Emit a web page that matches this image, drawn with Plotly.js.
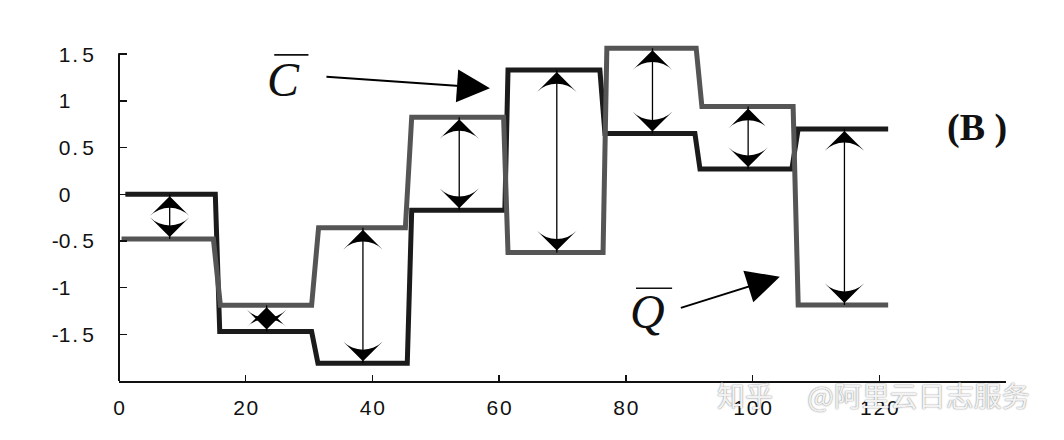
<!DOCTYPE html>
<html>
<head>
<meta charset="utf-8">
<script src="https://cdn.plot.ly/plotly-3.0.1.min.js"></script>
<style>
html,body{margin:0;padding:0;background:#ffffff;}
#chart{width:1064px;height:440px;}
</style>
</head>
<body>
<div id="chart"></div>
<script>
// ---- data ----
// C-bar series (dark line): step corners
const cBarX = [1, 15.2, 15.9, 30.4, 31.4, 45.5, 46.2, 60.9, 61.4, 75.9, 76.7, 90.9, 91.7, 106.2, 107.2, 121.4];
const cBarY = [0, 0, -1.47, -1.47, -1.81, -1.81, -0.17, -0.17, 1.33, 1.33, 0.65, 0.65, 0.27, 0.27, 0.70, 0.70];
// Q-bar series (grey line)
const qBarX = [0.4, 14.9, 16.0, 30.4, 31.5, 45.2, 46.2, 60.7, 61.4, 76.4, 77.0, 91.1, 92.0, 106.4, 107.2, 121.4];
const qBarY = [-0.48, -0.48, -1.19, -1.19, -0.36, -0.36, 0.825, 0.825, -0.625, -0.625, 1.563, 1.563, 0.939, 0.939, -1.186, -1.186];
// positions of the double-headed difference arrows
const arrowX = [8, 23.3, 38.5, 53.7, 69.1, 84.2, 99.3, 114.5];
// ticks
const H = '\u200A', T = '\u2009', P = '\u2008', F = '\u2007';
const xTickVals = [0, 20, 40, 60, 80, 100, 120, 140];
const xTickText = ['0', '2'+H+'0', '4'+H+'0', '6'+H+'0', '8'+H+'0', '1'+H+'0'+H+'0', '1'+H+'2'+H+'0', ''];
const yTickVals = [-1.5, -1, -0.5, 0, 0.5, 1, 1.5];
const yTickText = ['-1'+H+'.'+T+'5', '-1'+H+P+T+F, '-0'+H+'.'+T+'5', '0'+H+P+T+F, '0'+H+'.'+T+'5', '1'+H+P+T+F, '1'+H+'.'+T+'5'];
const yAxisTop = 1.51;

// ---- helpers ----
function interp(xs, ys, x) {
  for (let k = 0; k < xs.length - 1; k++) {
    if (x >= xs[k] && x <= xs[k + 1]) {
      const t = (x - xs[k]) / (xs[k + 1] - xs[k]);
      return ys[k] + t * (ys[k + 1] - ys[k]);
    }
  }
  return null;
}

const shaftX = [], shaftY = [];
const headX = [], headY = [], headAngle = [];
arrowX.forEach(function (a) {
  const yc = interp(cBarX, cBarY, a);
  const yq = interp(qBarX, qBarY, a);
  const top = Math.max(yc, yq), bot = Math.min(yc, yq);
  shaftX.push(a, a, null);
  shaftY.push(top, bot, null);
  headX.push(a, a);
  headY.push(top, bot);
  headAngle.push(0, 180);
});

const traces = [
  {
    x: cBarX, y: cBarY, type: 'scatter', mode: 'lines', name: 'C',
    line: {color: '#1b1b1b', width: 5}, hoverinfo: 'skip'
  },
  {
    x: qBarX, y: qBarY, type: 'scatter', mode: 'lines', name: 'Q',
    line: {color: '#555555', width: 5}, hoverinfo: 'skip'
  },
  {
    x: shaftX, y: shaftY, type: 'scatter', mode: 'lines',
    line: {color: '#000000', width: 1.3}, hoverinfo: 'skip'
  },
  {
    x: headX, y: headY, type: 'scatter', mode: 'markers',
    marker: {symbol: 'arrow-wide', size: 28, color: '#000000', angle: headAngle, standoff: 2, line: {width: 0}},
    cliponaxis: false, hoverinfo: 'skip'
  }
];

const layout = {
  width: 1064, height: 440,
  margin: {l: 119, r: 58, t: 43, b: 59, pad: 0},
  paper_bgcolor: '#ffffff', plot_bgcolor: '#ffffff',
  showlegend: false,
  xaxis: {
    range: [0, 140], showgrid: false, zeroline: false,
    showline: true, linecolor: '#111111', linewidth: 2,
    ticks: 'inside', ticklen: 6, tickwidth: 1.5, tickcolor: '#111111',
    tickmode: 'array', tickvals: xTickVals, ticktext: xTickText,
    tickfont: {family: '"Liberation Sans", Arial, sans-serif', size: 21, color: '#111111'},
    ticklabelstandoff: 7
  },
  yaxis: {
    range: [-2, 1.62], showgrid: false, zeroline: false,
    showline: false,
    ticks: 'inside', ticklen: 8, tickwidth: 1.5, tickcolor: '#111111',
    tickmode: 'array', tickvals: yTickVals, ticktext: yTickText,
    tickfont: {family: '"Liberation Sans", Arial, sans-serif', size: 21, color: '#111111'},
    ticklabelstandoff: 24
  },
  shapes: [
    // y axis line, stopping at the top tick like the reference
    {type: 'line', xref: 'paper', yref: 'y', x0: 0, x1: 0, y0: -2, y1: yAxisTop, line: {color: '#111', width: 2}},
    // overlines on the C and Q labels
    {type: 'line', xref: 'x', yref: 'y', x0: 24.5, x1: 29.9, y0: 1.493, y1: 1.493, line: {color: '#111', width: 1.6}},
    {type: 'line', xref: 'x', yref: 'y', x0: 81.6, x1: 87.3, y0: -1.007, y1: -1.007, line: {color: '#111', width: 1.6}}
  ],
  annotations: [
    {x: 25.9, y: 1.225, xref: 'x', yref: 'y', text: 'C', showarrow: false,
     font: {family: '"Liberation Serif", "Times New Roman", serif', size: 48, color: '#111', style: 'italic'}},
    {x: 83.4, y: -1.26, xref: 'x', yref: 'y', text: 'Q', showarrow: false,
     font: {family: '"Liberation Serif", "Times New Roman", serif', size: 48, color: '#111', style: 'italic'}},
    {x: 58.55, y: 1.136, xref: 'x', yref: 'y', ax: -165, ay: -11.6, text: '', showarrow: true,
     arrowhead: 2, arrowsize: 3.3, arrowwidth: 2, arrowcolor: '#000', standoff: 0},
    {x: 104.3, y: -0.883, xref: 'x', yref: 'y', ax: -100.5, ay: 31.6, text: '', showarrow: true,
     arrowhead: 2, arrowsize: 3.3, arrowwidth: 2, arrowcolor: '#000', standoff: 0},
    {x: 135.4, y: 0.72, xref: 'x', yref: 'y', text: '(B )', showarrow: false,
     font: {family: '"Liberation Serif", "Times New Roman", serif', size: 38, color: '#111', weight: 'bold'}},
    {x: 0.851, y: -0.041, xref: 'paper', yref: 'paper', xanchor: 'center', yanchor: 'middle',
     text: '知乎 　@阿里云日志服务', showarrow: false,
     font: {family: '"Noto Sans CJK SC", sans-serif', size: 28, color: '#f2f2f2',
            shadow: '0px 0px 1.5px #666666'}}
  ]
};

Plotly.newPlot('chart', traces, layout, {staticPlot: true, displayModeBar: false});
</script>
</body>
</html>
